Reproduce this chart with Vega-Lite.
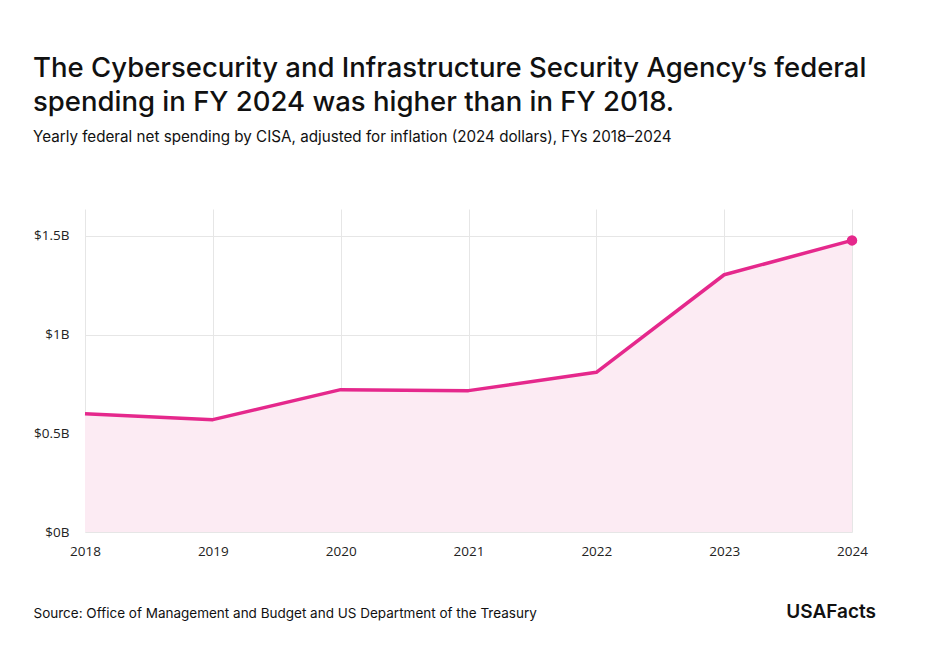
{
  "$schema": "https://vega.github.io/schema/vega-lite/v6.json",
  "width": 767,
  "height": 323,
  "autosize": {"type": "none"},
  "padding": {"left": 85, "top": 209, "right": 76, "bottom": 129},
  "background": "white",
  "title": {
    "text": ["The Cybersecurity and Infrastructure Security Agency’s federal", "spending in FY 2024 was higher than in FY 2018."],
    "subtitle": "Yearly federal net spending by CISA, adjusted for inflation (2024 dollars), FYs 2018–2024",
    "anchor": "start",
    "frame": "group",
    "dx": -52,
    "offset": 64,
    "font": "Inter",
    "fontSize": 27.5,
    "fontWeight": 500,
    "lineHeight": 34,
    "color": "#111111",
    "subtitleFont": "Inter",
    "subtitleFontSize": 15.2,
    "subtitleFontWeight": 400,
    "subtitleColor": "#111111",
    "subtitlePadding": 13
  },
  "data": {
    "values": [
      {"year": 2018, "spending": 0.599},
      {"year": 2019, "spending": 0.569},
      {"year": 2020, "spending": 0.721},
      {"year": 2021, "spending": 0.716},
      {"year": 2022, "spending": 0.809},
      {"year": 2023, "spending": 1.303},
      {"year": 2024, "spending": 1.477}
    ]
  },
  "config": {
    "view": {"stroke": null},
    "axis": {
      "labelFont": "Open Sans",
      "labelFontSize": 13.5,
      "labelColor": "#222222",
      "gridColor": "#e6e6e6",
      "gridWidth": 1,
      "domain": false,
      "ticks": false
    }
  },
  "layer": [
    {
      "mark": {"type": "area", "color": "#fcebf3", "opacity": 1},
      "encoding": {
        "x": {
          "field": "year",
          "type": "quantitative",
          "scale": {"domain": [2018, 2024], "nice": false, "zero": false},
          "axis": {
            "values": [2018, 2019, 2020, 2021, 2022, 2023, 2024],
            "format": "d",
            "labelFlush": false,
            "labelPadding": 12,
            "title": "Source: Office of Management and Budget and US Department of the Treasury",
            "titleFont": "Inter",
            "titleFontSize": 13.5,
            "titleFontWeight": 400,
            "titleColor": "#111111",
            "titleAnchor": "start",
            "titleAlign": "left",
            "titleX": -52,
            "titleY": 74
          }
        },
        "y": {
          "field": "spending",
          "type": "quantitative",
          "scale": {"domain": [0, 1.636], "nice": false},
          "axis": {
            "values": [0, 0.5, 1, 1.5],
            "labelExpr": "'$' + datum.value + 'B'",
            "labelPadding": 16,
            "title": null
          }
        }
      }
    },
    {
      "mark": {"type": "line", "color": "#e5288c", "strokeWidth": 3.5, "strokeJoin": "round"},
      "encoding": {
        "x": {"field": "year", "type": "quantitative"},
        "y": {"field": "spending", "type": "quantitative"}
      }
    },
    {
      "transform": [{"filter": "datum.year == 2024"}],
      "mark": {"type": "point", "filled": true, "color": "#e5288c", "size": 110, "opacity": 1},
      "encoding": {
        "x": {"field": "year", "type": "quantitative"},
        "y": {"field": "spending", "type": "quantitative"}
      }
    },
    {
      "data": {"values": [{"label": "USAFacts"}]},
      "mark": {"type": "text", "font": "Inter", "fontSize": 19, "fontWeight": 600, "color": "#111111", "align": "right", "baseline": "middle", "letterSpacing": -0.8, "clip": false, "dx": 24},
      "encoding": {
        "text": {"field": "label"},
        "x": {"datum": 2024},
        "y": {"datum": -0.405}
      }
    }
  ]
}
